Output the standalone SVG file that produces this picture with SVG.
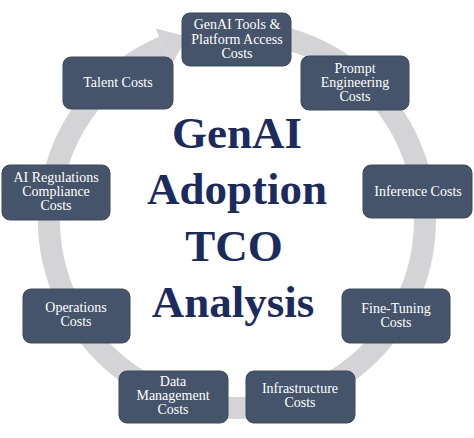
<svg xmlns="http://www.w3.org/2000/svg" width="474" height="438" viewBox="0 0 474 438">
<style>
.box{fill:#45546a;stroke:#3b4a5f;stroke-width:1}
.lbl{font-family:"Liberation Serif","Times New Roman",serif;font-size:14px;fill:#ffffff;text-anchor:middle}
.title{font-family:"Liberation Serif","Times New Roman",serif;font-size:45px;font-weight:bold;fill:#1c2b5e;text-anchor:middle}
</style>
<rect width="474" height="438" fill="#ffffff"/>
<g id="connectors">
<path d="M 269.65 34.86 A 188 188 0 1 1 163.55 46.94" fill="none" stroke="#d4d4d6" stroke-width="22"/>
<polygon points="155.7,28.5 187.4,36.7 171.3,65.3" fill="#d4d4d6"/>
</g>
<g id="title">
<text class="title" x="237" y="148">GenAI</text>
<text class="title" x="237" y="204">Adoption</text>
<text class="title" x="234" y="261">TCO</text>
<text class="title" x="233" y="317">Analysis</text>
</g>
<g id="n-tools">
<rect class="box" x="182" y="13" width="109" height="53" rx="8"/>
<text class="lbl" x="237" y="29">GenAI Tools &amp;</text>
<text class="lbl" x="237" y="44">Platform Access</text>
<text class="lbl" x="237" y="58">Costs</text>
</g>
<g id="n-prompt">
<rect class="box" x="301" y="56" width="108" height="54" rx="8"/>
<text class="lbl" x="355" y="73">Prompt</text>
<text class="lbl" x="355" y="87">Engineering</text>
<text class="lbl" x="355" y="101">Costs</text>
</g>
<g id="n-inference">
<rect class="box" x="363" y="165" width="109" height="53" rx="8"/>
<text class="lbl" x="418" y="196">Inference Costs</text>
</g>
<g id="n-finetuning">
<rect class="box" x="342" y="289" width="108" height="54" rx="8"/>
<text class="lbl" x="396" y="313">Fine-Tuning</text>
<text class="lbl" x="396" y="327">Costs</text>
</g>
<g id="n-infra">
<rect class="box" x="246" y="371" width="109" height="52" rx="8"/>
<text class="lbl" x="300" y="393">Infrastructure</text>
<text class="lbl" x="300" y="407">Costs</text>
</g>
<g id="n-data">
<rect class="box" x="119" y="371" width="109" height="52" rx="8"/>
<text class="lbl" x="173" y="386">Data</text>
<text class="lbl" x="173" y="400">Management</text>
<text class="lbl" x="173" y="414">Costs</text>
</g>
<g id="n-operations">
<rect class="box" x="23" y="289" width="107" height="54" rx="8"/>
<text class="lbl" x="76" y="312">Operations</text>
<text class="lbl" x="76" y="326">Costs</text>
</g>
<g id="n-regulations">
<rect class="box" x="2" y="165" width="108" height="55" rx="8"/>
<text class="lbl" x="56" y="182">AI Regulations</text>
<text class="lbl" x="56" y="196">Compliance</text>
<text class="lbl" x="56" y="210">Costs</text>
</g>
<g id="n-talent">
<rect class="box" x="63" y="57" width="110" height="52" rx="8"/>
<text class="lbl" x="118" y="87">Talent Costs</text>
</g>
</svg>
